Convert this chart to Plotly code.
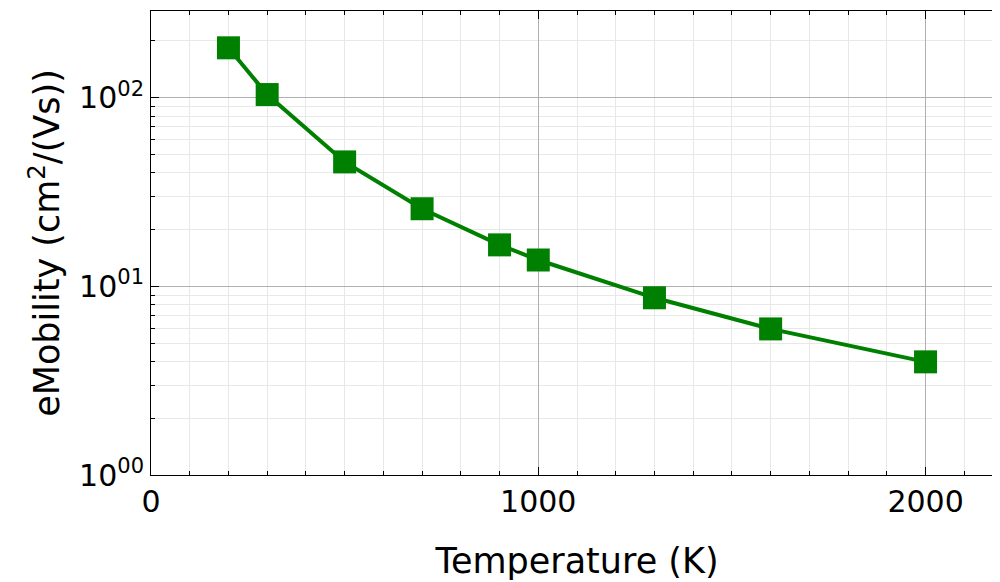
import plotly.graph_objects as go

temperature = [200, 300, 500, 700, 900, 1000, 1300, 1600, 2000]
mobility = [184, 104, 45.7, 25.8, 16.6, 13.8, 8.7, 5.95, 3.98]
y_ticks = [1, 10, 100]
y_labels = ["10<sup>00</sup>", "10<sup>01</sup>", "10<sup>02</sup>"]

fig = go.Figure(go.Scatter(
    x=temperature, y=mobility, mode="lines+markers",
    line=dict(color="green", width=4),
    marker=dict(symbol="square", size=23, color="green"),
))

fig.update_layout(
    width=1000, height=582,
    margin=dict(l=143, r=5, t=3, b=115),
    plot_bgcolor="white", paper_bgcolor="white",
    font=dict(family="DejaVu Sans", size=30, color="black"),
    showlegend=False,
)
fig.update_xaxes(
    range=[0, 2200], tickvals=[0, 1000, 2000], automargin=False,
    title=dict(text="Temperature (K)", font=dict(size=35), standoff=30),
    showline=True, linecolor="black", linewidth=1, mirror="allticks",
    ticks="inside", ticklen=8, tickcolor="black",
    showgrid=True, gridcolor="#b0b0b0", gridwidth=1,
    minor=dict(dtick=100, showgrid=True, gridcolor="#e8e8e8", ticks="inside", ticklen=4),
    zeroline=False,
)
fig.update_yaxes(
    type="log", range=[0, 2.46], tickvals=y_ticks, ticktext=y_labels, automargin=False,
    title=dict(text="eMobility (cm<sup>2</sup>/(Vs))", font=dict(size=35), standoff=8),
    showline=True, linecolor="black", linewidth=1, mirror="allticks",
    ticks="inside", ticklen=8, tickcolor="black",
    showgrid=True, gridcolor="#b0b0b0", gridwidth=1,
    minor=dict(tickvals=[2, 3, 4, 5, 6, 7, 8, 9, 20, 30, 40, 50, 60, 70, 80, 90, 200],
               showgrid=True, gridcolor="#e8e8e8", ticks="inside", ticklen=4),
)

fig.write_html("out.html")
